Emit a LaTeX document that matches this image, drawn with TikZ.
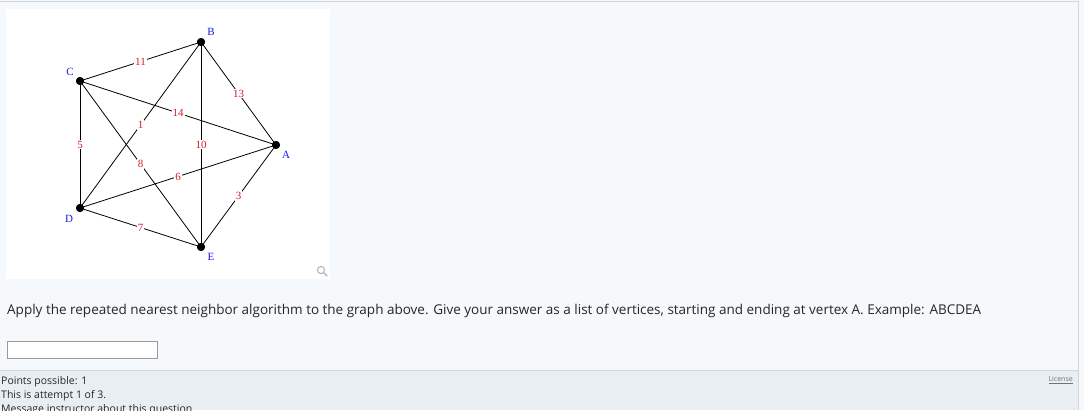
\documentclass[tikz,border=0pt]{standalone}
\usepackage{fontspec}
\setmainfont{Open Sans}
\newfontfamily\graphfont{Liberation Serif}
\definecolor{pagebg}{HTML}{F5F9FC}
\definecolor{footbg}{HTML}{E9EEF3}
\definecolor{rulegrey}{HTML}{D0D6DC}
\definecolor{vblue}{HTML}{1A1AE6}
\definecolor{ered}{HTML}{D81B2A}
\tikzset{
  vertex/.style={circle,fill=black,inner sep=0pt,minimum size=8pt},
  vlabel/.style={text=vblue,font=\graphfont\fontsize{11}{13}\selectfont,inner sep=0pt},
  elabel/.style={text=ered,fill=white,font=\graphfont\fontsize{11}{13}\selectfont,inner sep=1pt},
  edge/.style={draw=black,line width=0.8pt},
  bodytext/.style={text=black!85,font=\fontsize{13.5}{16}\selectfont,inner sep=0pt,anchor=west},
  foottext/.style={text=black!85,font=\fontsize{10.5}{12}\selectfont,inner sep=0pt,anchor=west}
}
\begin{document}
\begin{tikzpicture}[x=1pt,y=-1pt]
\useasboundingbox (0,0) rectangle (1084,410);
\begin{scope}
\clip (0,0) rectangle (1084,410);
\fill[pagebg] (0,0) rectangle (1084,410);
\draw[rulegrey,line width=0.8pt] (0,1) -- (1078,1) -- (1078,410);
\fill[footbg] (0,370) rectangle (1078,410);
\draw[rulegrey,line width=0.8pt] (0,370) -- (1078,370);
% white panel
\fill[white] (6,9) rectangle (330,279);
% magnifier
\draw[black!30,line width=1pt] (321,270) circle (3.6pt);
\draw[black!30,line width=1.4pt,line cap=round] (323.6,272.6) -- (327,276);
% vertices
\node[vertex] (A) at (276,145) {};
\node[vertex] (B) at (201,42) {};
\node[vertex] (C) at (80,81) {};
\node[vertex] (D) at (80,208) {};
\node[vertex] (E) at (201,247) {};
\node[vlabel] (lA) at (286,155) {A};
\node[vlabel] (lB) at (211,32) {B};
\node[vlabel] (lC) at (70,72) {C};
\node[vlabel] (lD) at (69,219) {D};
\node[vlabel] (lE) at (211,257) {E};
% edges
\draw[edge] (C.center) -- (B.center) node[elabel,pos=0.5] {11};
\draw[edge] (B.center) -- (A.center) node[elabel,pos=0.5] {13};
\draw[edge] (C.center) -- (A.center) node[elabel,pos=0.5] {14};
\draw[edge] (D.center) -- (B.center) node[elabel,pos=0.5] {1};
\draw[edge] (C.center) -- (D.center) node[elabel,pos=0.5] {5};
\draw[edge] (B.center) -- (E.center) node[elabel,pos=0.5] {10};
\draw[edge] (C.center) -- (E.center) node[elabel,pos=0.5] {8};
\draw[edge] (D.center) -- (A.center) node[elabel,pos=0.5] {6};
\draw[edge] (E.center) -- (A.center) node[elabel,pos=0.5] {3};
\draw[edge] (D.center) -- (E.center) node[elabel,pos=0.5] {7};
\node[vertex] at (A) {};
\node[vertex] at (B) {};
\node[vertex] at (C) {};
\node[vertex] at (D) {};
\node[vertex] at (E) {};
% question text
\node[bodytext] (q) at (7,311) {Apply the repeated nearest neighbor algorithm to the graph above. Give your answer as a list of vertices, starting and ending at vertex A. Example: ABCDEA};
% input box
\node[draw=black!40,fill=white,line width=0.8pt,minimum width=150pt,minimum height=17pt,inner sep=0pt,anchor=north west] (box) at (7,341) {};
% footer
\node[foottext] (p1) at (1,382) {Points possible: 1};
\node[foottext] (p2) at (1,396) {This is attempt 1 of 3.};
\node[foottext] (p3) at (1,410) {Message instructor about this question};
\node[text=black!55,font=\fontsize{7}{8}\selectfont,inner sep=0pt,anchor=east] (lic) at (1073,380) {\underline{License}};
\end{scope}
\end{tikzpicture}
\end{document}
